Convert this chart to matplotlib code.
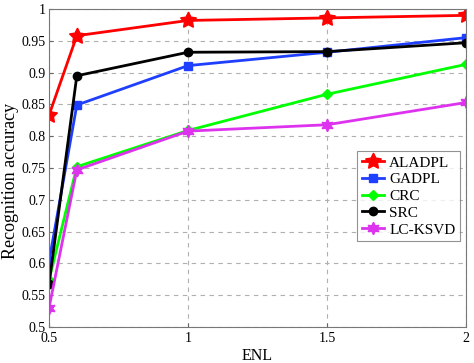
import matplotlib
matplotlib.use("Agg")
import matplotlib.pyplot as plt

plt.rcParams['font.family'] = ['Liberation Serif', 'DejaVu Serif']

# ENL values and recognition accuracy per method
enl = [0.5, 0.6, 1.0, 1.5, 2.0]
aladpl = [0.833, 0.958, 0.982, 0.986, 0.990]
gadpl = [0.603, 0.849, 0.911, 0.932, 0.955]
crc = [0.574, 0.752, 0.809, 0.866, 0.913]
src = [0.567, 0.895, 0.932, 0.933, 0.947]
lcksvd = [0.530, 0.747, 0.808, 0.818, 0.853]

x_ticks = [0.5, 1, 1.5, 2]
x_tick_labels = ['0.5', '1', '1.5', '2']
y_ticks = [0.5, 0.55, 0.6, 0.65, 0.7, 0.75, 0.8, 0.85, 0.9, 0.95, 1]
y_tick_labels = ['0.5', '0.55', '0.6', '0.65', '0.7', '0.75', '0.8', '0.85', '0.9', '0.95', '1']

fig = plt.figure(figsize=(4.74, 3.63), dpi=100)
ax = fig.add_axes([0.1034, 0.0992, 0.880, 0.876])

series = [
    ("ALADPL", aladpl, '#ff0000', (5, 1, 0), 12),
    ("GADPL", gadpl, '#1f3fff', 's', 6),
    ("CRC", crc, '#00ff00', 'D', 5),
    ("SRC", src, '#000000', 'o', 6),
    ("LC-KSVD", lcksvd, '#dd33ee', (6, 1, 0), 9),
]
for name, vals, col, mk, ms in series:
    ax.plot(enl, vals, color=col, marker=mk, markersize=ms, linewidth=2.0,
            label=name)

ax.set_xlim(0.5, 2)
ax.set_ylim(0.5, 1)
ax.set_xticks(x_ticks)
ax.set_xticklabels(x_tick_labels)
ax.set_yticks(y_ticks)
ax.set_yticklabels(y_tick_labels)
ax.tick_params(direction='in', labelsize=10, length=3, color='#666666')
ax.tick_params(axis='y', pad=2.5)
ax.grid(True, linestyle=(0, (4, 4)), color='#b0b0b0', linewidth=0.8)
for s in ax.spines.values():
    s.set_color('#777777')

ax.set_xlabel("ENL", fontsize=11.5, labelpad=2)
ax.set_ylabel("Recognition accuracy", fontsize=13)
ax.yaxis.set_label_coords(-0.072, 0.46)

leg = ax.legend(loc='lower right', bbox_to_anchor=(0.985, 0.27), fontsize=11,
                frameon=True, fancybox=False, handlelength=1.5, borderpad=0.3,
                labelspacing=0.2, handletextpad=0.3, borderaxespad=0)
leg.get_frame().set_edgecolor('#777777')
leg.get_frame().set_linewidth(0.8)

fig.savefig("out.png", dpi=100)
